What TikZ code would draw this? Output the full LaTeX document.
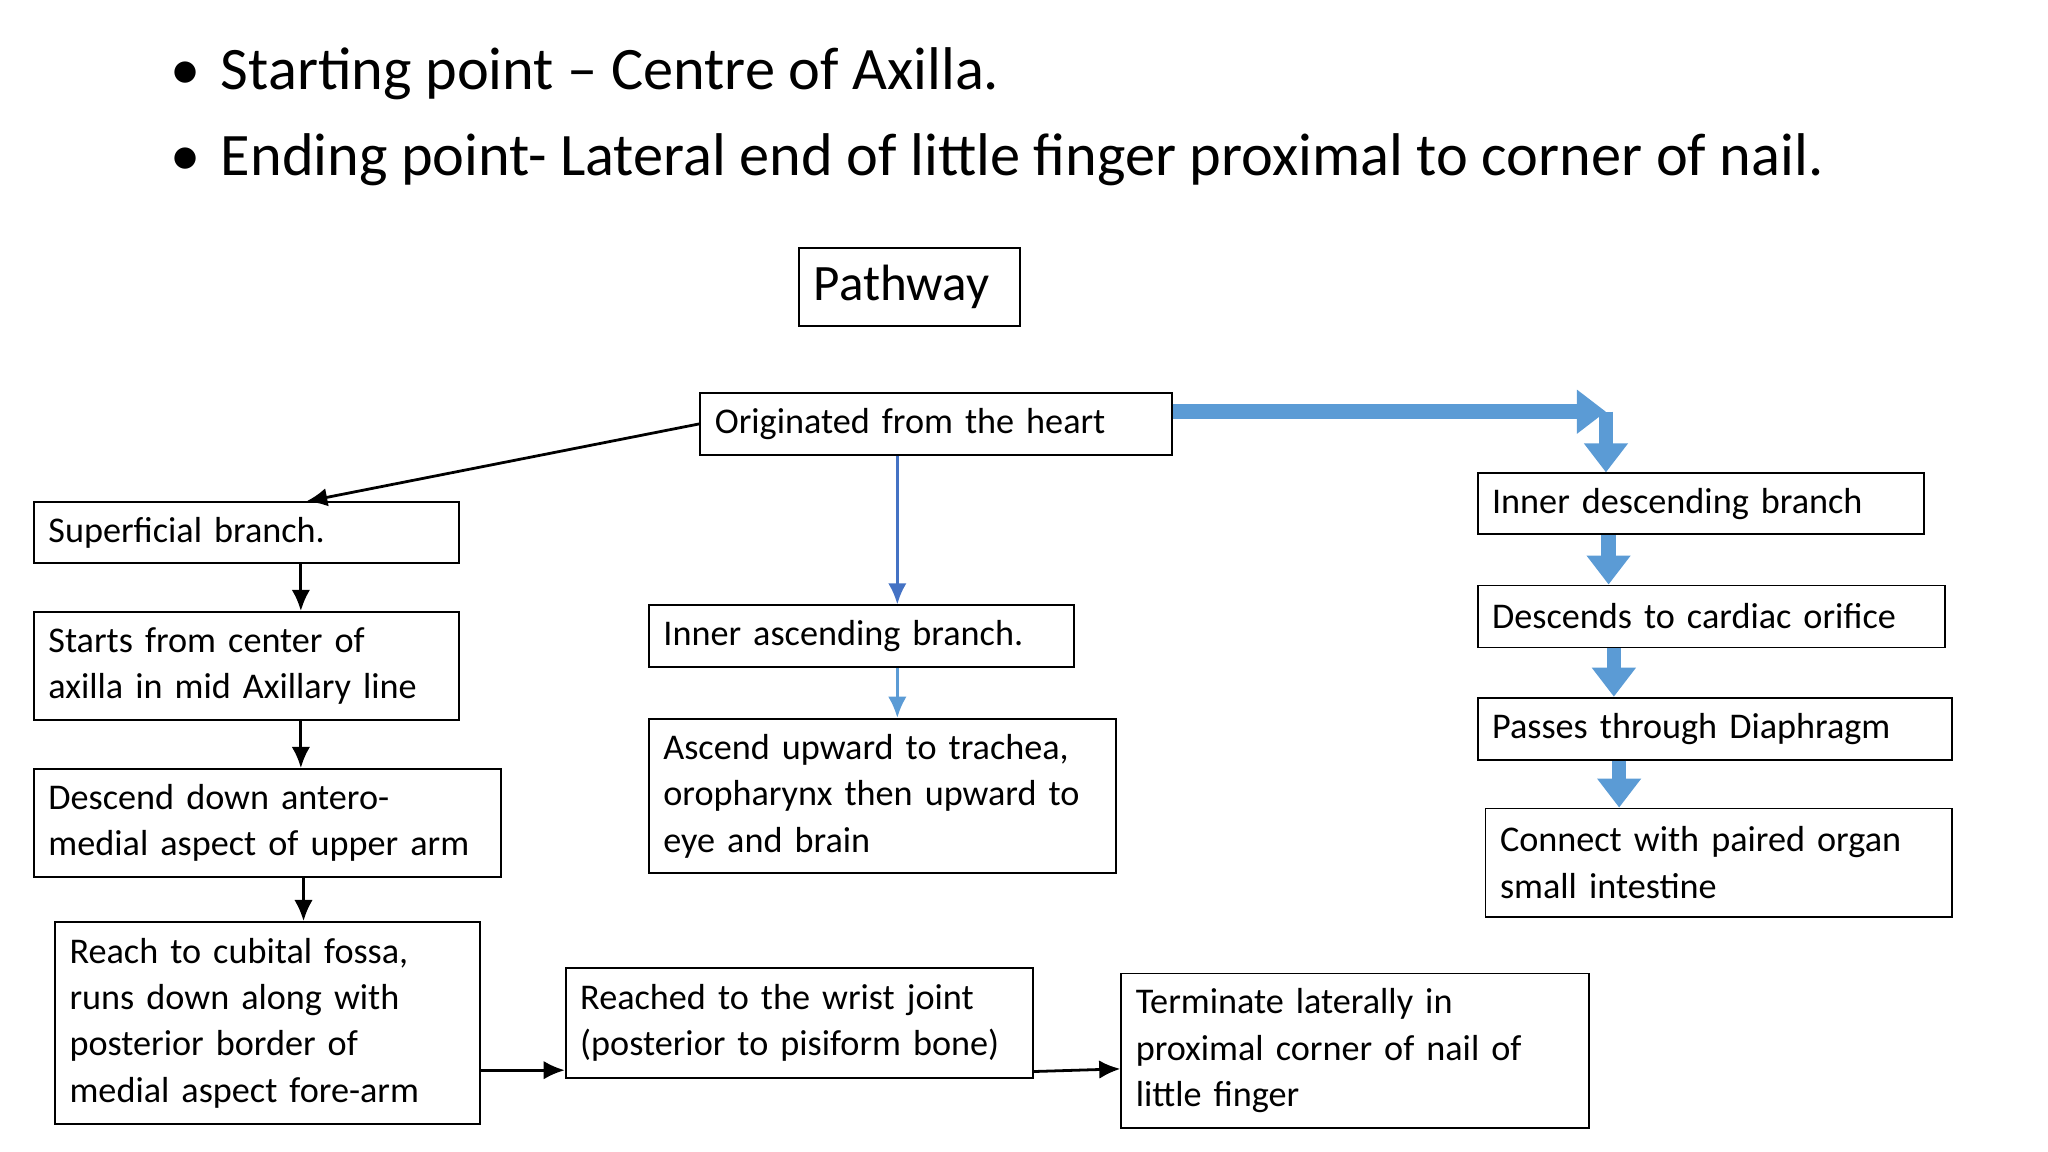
\documentclass[tikz,border=0pt]{standalone}
\usepackage{fontspec}
\setmainfont{Carlito}
\usetikzlibrary{arrows.meta}
\definecolor{flowblue}{HTML}{5B9BD5}
\definecolor{lineblue}{HTML}{4472C4}
\begin{document}
\begin{tikzpicture}[x=0.01cm, y=-0.01cm,
  box/.style = {draw, anchor=north west, align=left, inner sep=0.11cm, font=\fontsize{7.8pt}{10pt}\selectfont},
  thin/.style = {-{Latex[length=1.6mm,width=1.4mm]}, line width=0.6pt},
  thick/.style = {-{Triangle[length=2.2mm,width=3.2mm]}, line width=1.1mm, flowblue}]
\useasboundingbox (0,0) rectangle (1552,873);
% bullets
\node[anchor=base west, font=\fontsize{13pt}{15pt}\selectfont] (b1) at (117,68) {\textbullet\,\,Starting point – Centre of Axilla.};
\node[anchor=base west, font=\fontsize{13pt}{15pt}\selectfont] (b2) at (117,133) {\textbullet\,\,Ending point- Lateral end of little finger proximal to corner of nail.};
\node[box, font=\fontsize{11pt}{13pt}\selectfont, minimum width=1.67cm, minimum height=0.59cm, text width=1.45cm] (path) at (605,187) {Pathway};
% boxes
\node[box, minimum width=3.57cm, minimum height=0.47cm, text width=3.35cm] (heart) at (530,297) {Originated from the heart};
\node[box, minimum width=3.22cm, minimum height=0.46cm, text width=3.0cm] (sup) at (25,380) {Superficial branch.};
\node[box, minimum width=3.22cm, minimum height=0.82cm, text width=3.0cm] (start) at (25,463) {Starts from center of\\axilla in mid Axillary line};
\node[box, minimum width=3.54cm, minimum height=0.82cm, text width=3.32cm] (desc) at (25,582) {Descend down antero-\\medial aspect of upper arm};
\node[box, minimum width=3.22cm, minimum height=1.53cm, text width=3.0cm] (reach) at (41,698) {Reach to cubital fossa,\\runs down along with\\posterior border of\\medial aspect fore-arm};
\node[box, minimum width=3.54cm, minimum height=0.83cm, text width=3.32cm] (wrist) at (428,733) {Reached to the wrist joint\\(posterior to pisiform bone)};
\node[box, minimum width=3.54cm, minimum height=1.17cm, text width=3.32cm] (term) at (849,737) {Terminate laterally in\\proximal corner of nail of\\little finger};
\node[box, minimum width=3.22cm, minimum height=0.47cm, text width=3.0cm] (asc) at (491,458) {Inner ascending branch.};
\node[box, minimum width=3.54cm, minimum height=1.17cm, text width=3.32cm] (up) at (491,544) {Ascend upward to trachea,\\oropharynx then upward to\\eye and brain};
\node[box, minimum width=3.38cm, minimum height=0.46cm, text width=3.16cm] (inner) at (1119,358) {Inner descending branch};
\node[box, minimum width=3.54cm, minimum height=0.47cm, text width=3.32cm] (card) at (1119,443) {Descends to cardiac orifice};
\node[box, minimum width=3.59cm, minimum height=0.47cm, text width=3.37cm] (dia) at (1119,528) {Passes through Diaphragm};
\node[box, minimum width=3.53cm, minimum height=0.82cm, text width=3.31cm] (organ) at (1125,612) {Connect with paired organ\\small intestine};
\coordinate (turn) at (1217,312);
% connectors
\draw[thin] (heart.west) -- (sup.north -| 232,0);
\draw[thin] (sup.south -| 228,0) -- (start.north -| 228,0);
\draw[thin] (start.south -| 228,0) -- (desc.north -| 228,0);
\draw[thin] (desc.south -| 230,0) -- (reach.north -| 230,0);
\draw[thin] (reach.east |- 0,811) -- (wrist.west |- 0,811);
\draw[thin] (wrist.east |- 0,812) -- (term.west |- 0,810);
\draw[thin, lineblue] (heart.south -| 680,0) -- (asc.north -| 680,0);
\draw[thin, flowblue] (asc.south -| 680,0) -- (up.north -| 680,0);
\draw[thick] (heart.east |- turn) -- (turn);
\draw[thick] (turn) -- (inner.north -| turn);
\draw[thick] (inner.south -| 1219,0) -- (card.north -| 1219,0);
\draw[thick] (card.south -| 1223,0) -- (dia.north -| 1223,0);
\draw[thick] (dia.south -| 1227,0) -- (organ.north -| 1227,0);
\end{tikzpicture}
\end{document}
